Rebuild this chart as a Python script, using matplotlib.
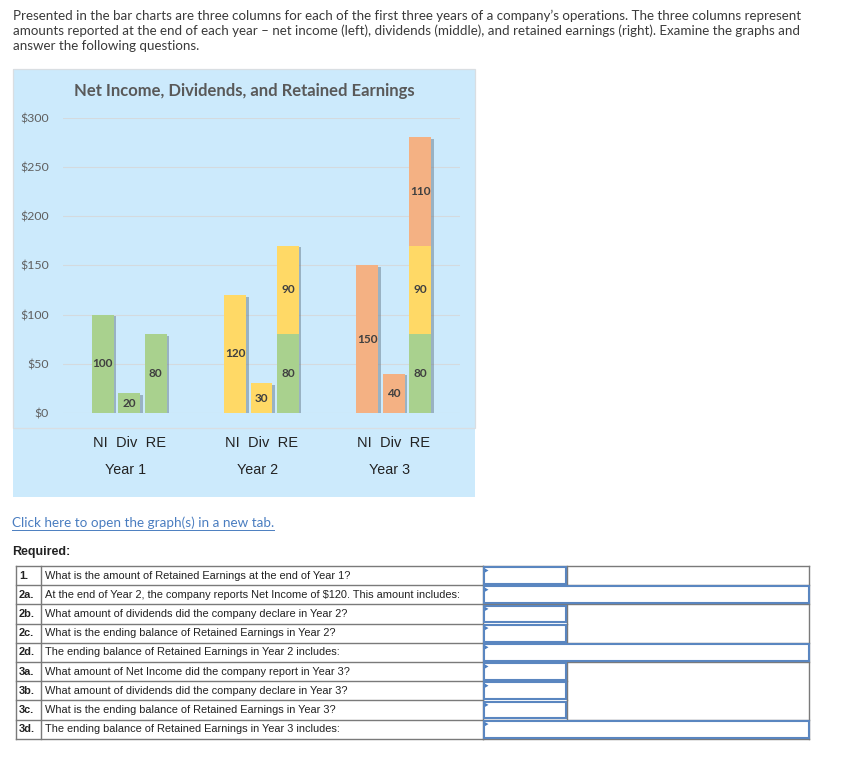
import matplotlib
matplotlib.use("Agg")
import matplotlib.pyplot as plt
from matplotlib.patches import Rectangle, Polygon
from matplotlib.lines import Line2D
from matplotlib import patheffects, transforms

# page size in pixels
W, H = 848, 757

intro_lines = [
    "Presented in the bar charts are three columns for each of the first three years of a company\u2019s operations. The three columns represent",
    "amounts reported at the end of each year \u2013 net income (left), dividends (middle), and retained earnings (right). Examine the graphs and",
    "answer the following questions.",
]
link_text = "Click here to open the graph(s) in a new tab."

# chart data: one layer per year, stacked inside the RE columns
title = "Net Income, Dividends, and Retained Earnings"
years = ["Year 1", "Year 2", "Year 3"]
columns = ["NI", "Div", "RE"]
year1_part = [100, 20, 80, 0, 0, 80, 0, 0, 80]
year2_part = [0, 0, 0, 120, 30, 90, 0, 0, 90]
year3_part = [0, 0, 0, 0, 0, 0, 150, 40, 110]
layer_colors = ["#A9D18E", "#FFD966", "#F4B183"]
yticks = [0, 50, 100, 150, 200, 250, 300]

# question table
row_nums = ["1.", "2a.", "2b.", "2c.", "2d.", "3a.", "3b.", "3c.", "3d."]
questions = [
    "What is the amount of Retained Earnings at the end of Year 1?",
    "At the end of Year 2, the company reports Net Income of $120. This amount includes:",
    "What amount of dividends did the company declare in Year 2?",
    "What is the ending balance of Retained Earnings in Year 2?",
    "The ending balance of Retained Earnings in Year 2 includes:",
    "What amount of Net Income did the company report in Year 3?",
    "What amount of dividends did the company declare in Year 3?",
    "What is the ending balance of Retained Earnings in Year 3?",
    "The ending balance of Retained Earnings in Year 3 includes:",
]
answer_kind = ["short", "long", "short", "short", "long", "short", "short", "short", "long"]


def fx(x):
    return x / W


def fy(y):
    return 1 - y / H


def px_line(x0, y0, x1, y1, **kw):
    fig.add_artist(Line2D([fx(x0), fx(x1)], [fy(y0), fy(y1)],
                          transform=fig.transFigure, **kw))


def px_rect(x0, y0, x1, y1, **kw):
    fig.add_artist(Rectangle((fx(x0), fy(y1)), (x1 - x0) / W, (y1 - y0) / H,
                             transform=fig.transFigure, **kw))


fig = plt.figure(figsize=(W / 100, H / 100), dpi=100)
fig.patch.set_facecolor("white")

# intro paragraph
para_font = ["Lato", "DejaVu Sans"]
for i, line in enumerate(intro_lines):
    fig.text(fx(13), fy(15.5 + 15.3 * i), line, ha="left", va="center",
             fontsize=9.6, color="#3a3a3a", family=para_font)

# chart panel
px_rect(13, 69, 475, 497, facecolor="#CCEAFC", edgecolor="none", zorder=-2)
px_rect(13, 69, 475, 428, facecolor="none", edgecolor="#D9DEE2", lw=0.9, zorder=-1)

ax = fig.add_axes([fx(63), fy(413), (460 - 63) / W, (413 - 117.7) / H])
ax.set_facecolor("none")
for s in ax.spines.values():
    s.set_visible(False)

xpos = [g * 5 + k - 1 for g in range(len(years)) for k in range(len(columns))]
shadow = [patheffects.SimplePatchShadow(offset=(1.8, -1.2), shadow_rgbFace="#6f8494", alpha=0.55),
          patheffects.Normal()]
bottom = [0] * len(xpos)
for i, (part, color) in enumerate(zip([year1_part, year2_part, year3_part], layer_colors)):
    bars = ax.bar(xpos, part, 0.83, bottom=bottom, color=color, lw=0, zorder=3 - 0.1 * i)
    for b, v in zip(bars, part):
        if v:
            b.set_path_effects(shadow)
            ax.text(b.get_x() + b.get_width() / 2, b.get_y() + v / 2, str(v),
                    ha="center", va="center", fontsize=8.5, fontweight="bold",
                    color="#404040", family=["Lato", "DejaVu Sans"], zorder=6)
    bottom = [b0 + v for b0, v in zip(bottom, part)]

ax.set_xlim(-2.5, 12.5)
ax.set_ylim(0, 300)
ax.set_xticks([])
ax.set_yticks(yticks)
ax.set_yticklabels(["$" + str(v) for v in yticks], fontsize=8.9, color="#5f5f5f",
                   family=["Lato", "DejaVu Sans"])
ax.tick_params(axis="y", length=0, pad=10)
ax.yaxis.grid(True, color="#D4DADE", lw=0.8)
ax.set_axisbelow(True)

fig.text(fx(244), fy(91), title, ha="center", va="center", fontsize=12,
         fontweight="bold", color="#595959", family=["Lato", "DejaVu Sans"])

blend = transforms.blended_transform_factory(ax.transData, fig.transFigure)
for g, year in enumerate(years):
    ax.text(g * 5, fy(442.7), "  ".join(columns), transform=blend, ha="center",
            va="center", fontsize=10.5, color="#222222", family=["Liberation Sans", "DejaVu Sans"])
    ax.text(g * 5 - 0.15, fy(470), year, transform=blend, ha="center", va="center",
            fontsize=10.3, color="#222222", family=["Liberation Sans", "DejaVu Sans"])

# link with underline
link = fig.text(fx(12), fy(523), link_text, ha="left", va="center", fontsize=9.7,
                color="#4A7DC0", family=para_font)
renderer = fig.canvas.get_renderer()
bb = link.get_window_extent(renderer=renderer)
px_line(bb.x0, 530, bb.x1, 530, color="#4A7DC0", lw=0.7)

fig.text(fx(12), fy(552), "Required:", ha="left", va="center", fontsize=9,
         fontweight="bold", color="#222222", family=["Liberation Sans", "DejaVu Sans"])

# table
tfont = ["Liberation Sans", "DejaVu Sans"]
top, row_h = 566, 19.2
left, num_col, ans_col, short_end, right = 15.7, 41, 483.5, 566, 809
grey = "#7a7a7a"
bot = top + row_h * len(row_nums)
px_line(left, top, left, bot, color=grey, lw=1)
px_line(num_col, top, num_col, bot, color=grey, lw=1)
px_line(ans_col, top, ans_col, bot, color=grey, lw=1)
px_line(right, top, right, bot, color=grey, lw=1)
for i in range(len(row_nums) + 1):
    y = top + row_h * i
    px_line(left, y, ans_col, y, color=grey, lw=1)
    merged = 0 < i < len(row_nums) and answer_kind[i - 1] == "short" and answer_kind[i] == "short"
    if not merged:
        px_line(ans_col, y, right, y, color=grey, lw=1)

for i, (num, q, kind) in enumerate(zip(row_nums, questions, answer_kind)):
    y0 = top + row_h * i
    yc = y0 + row_h / 2
    fig.text(fx(19), fy(yc), num, ha="left", va="center", fontsize=7.9,
             fontweight="bold", color="#222222", family=tfont)
    fig.text(fx(45), fy(yc), q, ha="left", va="center", fontsize=7.9,
             color="#222222", family=tfont)
    x1 = short_end if kind == "short" else right - 0.5
    if kind == "short":
        px_line(short_end + 0.8, y0, short_end + 0.8, y0 + row_h, color=grey, lw=1)
    px_rect(ans_col + 0.8, y0 + 1.2, x1, y0 + row_h - 1.2, facecolor="white",
            edgecolor="#5A86C0", lw=1.5, zorder=3)
    fig.add_artist(Polygon([(fx(485), fy(y0 + 2.5)), (fx(485), fy(y0 + 6.5)),
                            (fx(488.5), fy(y0 + 4.5))], closed=True,
                           transform=fig.transFigure, facecolor="#4A7DC0",
                           edgecolor="none", zorder=4))

fig.savefig("out.png", dpi=100)
